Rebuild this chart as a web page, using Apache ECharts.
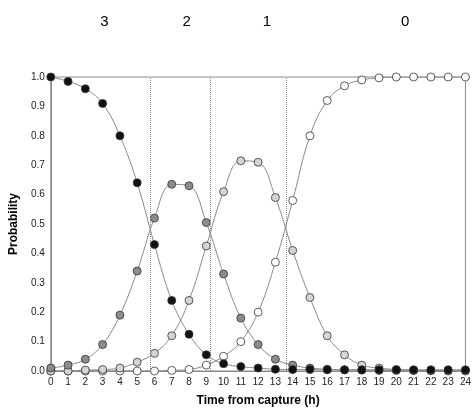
<!DOCTYPE html>
<html><head><meta charset="utf-8">
<script src="https://cdn.jsdelivr.net/npm/echarts@6/dist/echarts.min.js"></script>
<style>html,body{margin:0;padding:0;background:#fff}#chart{width:474px;height:412px}</style>
</head><body><div id="chart"></div>
<script>
const hours = Array.from({length: 25}, (_, i) => i);
const stage3 = [1.0, .985, .96, .91, .80, .64, .43, .24, .125, .055, .025, .015, .01, .006, .005, .005, .004, .004, .004, .004, .004, .004, .004, .004, .004];
const stage2 = [.01, .02, .04, .09, .19, .34, .52, .635, .63, .505, .33, .18, .09, .04, .02, .01, .006, .004, .003, .002, .002, .002, .002, .002, .002];
const stage1 = [0, 0, .003, .005, .01, .03, .06, .12, .24, .425, .61, .715, .71, .59, .41, .25, .12, .055, .02, .01, .005, .002, .001, 0, 0];
const stage0 = [0, 0, 0, 0, 0, 0, 0, .002, .005, .02, .05, .1, .2, .37, .58, .80, .92, .97, .99, .997, 1, 1, 1, 1, 1];
const boundaries = [5.75, 9.25, 13.6];
const stageLabels = [['3', 3.1], ['2', 7.85], ['1', 12.5], ['0', 20.5]];

const chart = echarts.init(document.getElementById('chart'));
function series(name, data, fill, z) {
  return {
    name, type: 'line', smooth: 0.4, data: hours.map((h, i) => [h, data[i]]),
    symbol: 'circle', symbolSize: 8, z,
    lineStyle: {color: '#8a8a8a', width: 1},
    itemStyle: {color: fill, borderColor: '#333', borderWidth: 0.8}
  };
}
const s = [
  series('0', stage0, '#ffffff', 2),
  series('1', stage1, '#d4d4d4', 3),
  series('2', stage2, '#8c8c8c', 4),
  series('3', stage3, '#111111', 5)
];
s[0].markLine = {
  silent: true, symbol: 'none', label: {show: false},
  lineStyle: {color: '#888', type: 'dotted', width: 1},
  data: boundaries.map(b => [{coord: [b, 0]}, {coord: [b, 1]}])
};
chart.setOption({
  animation: false,
  textStyle: {fontFamily: 'Liberation Sans'},
  grid: {left: 43, right: 6, top: 77, bottom: 39, show: true, borderColor: '#888', borderWidth: 1},
  xAxis: {
    type: 'value', min: 0, max: 24, interval: 1,
    name: 'Time from capture (h)', nameLocation: 'middle', nameGap: 24,
    nameTextStyle: {fontWeight: 'bold', fontSize: 12, color: '#000'},
    axisLine: {lineStyle: {color: '#888'}}, axisTick: {show: false},
    axisLabel: {fontSize: 10, color: '#222', margin: 6}, splitLine: {show: false}
  },
  yAxis: {
    type: 'value', min: 0, max: 1, interval: 0.1,
    name: 'Probability', nameLocation: 'middle', nameGap: 30,
    nameTextStyle: {fontWeight: 'bold', fontSize: 12, color: '#000'},
    axisLine: {show: true, lineStyle: {color: '#888'}}, axisTick: {show: false},
    axisLabel: {fontSize: 10, color: '#222', margin: 6, formatter: v => v.toFixed(1)},
    splitLine: {show: false}
  },
  series: s
});
chart.setOption({
  graphic: stageLabels.map(l => {
    const x = chart.convertToPixel({gridIndex: 0}, [l[1], 0])[0];
    return {type: 'text', left: x - 4, top: 14,
      style: {text: l[0], fontSize: 15, fill: '#000', font: '15px Liberation Sans'}};
  })
});
</script></body></html>
